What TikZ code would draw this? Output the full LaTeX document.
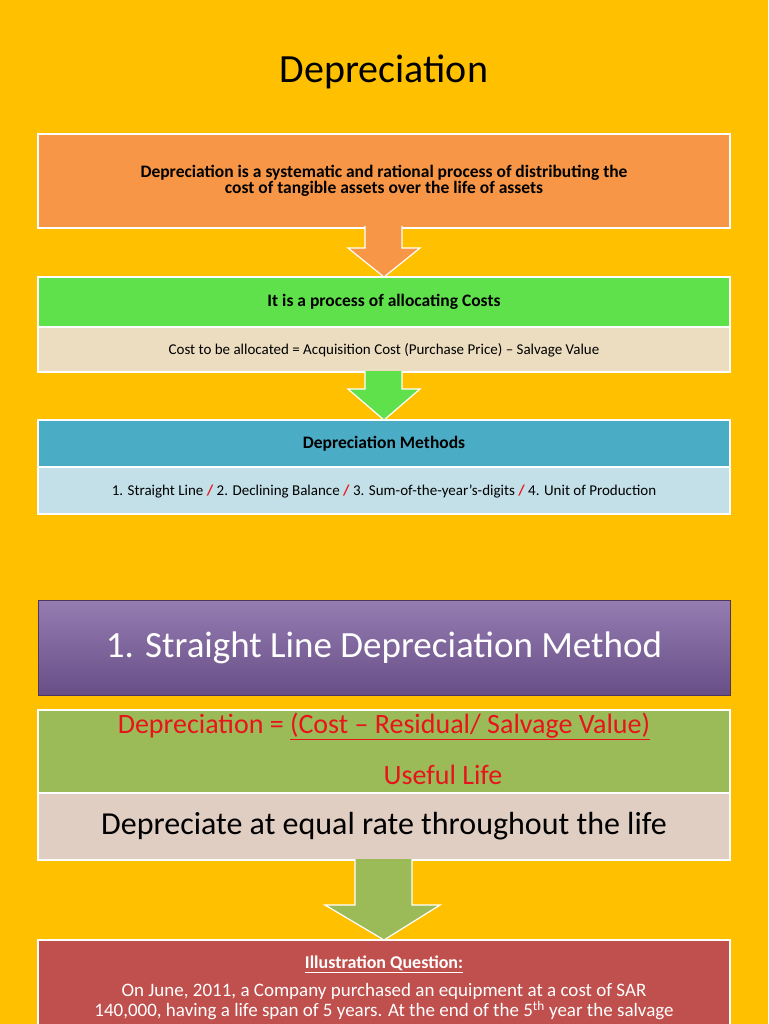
\documentclass[tikz,border=0pt]{standalone}
\usepackage{fontspec}
\setmainfont{Carlito}
\definecolor{bg}{HTML}{FFC000}
\definecolor{org}{HTML}{F79646}
\definecolor{grn}{HTML}{5FE14B}
\definecolor{bei}{HTML}{ECDDC0}
\definecolor{blu}{HTML}{4BACC6}
\definecolor{lblu}{HTML}{C3E0E8}
\definecolor{pur}{HTML}{7A5C9E}
\definecolor{olv}{HTML}{9BBB59}
\definecolor{bei2}{HTML}{E0CEC3}
\definecolor{redb}{HTML}{C0504D}
\definecolor{rtxt}{HTML}{E8141B}
\begin{document}
\begin{tikzpicture}[x=1pt,y=-1pt,
  box/.style={draw=white,line width=1.2pt},
  arr/.style={draw=white,line width=1.2pt,line join=miter}]
\fill[bg] (0,0) rectangle (768,1024);
\useasboundingbox (0,0) rectangle (768,1024);
\node (title) at (384,72) {\fontsize{40}{46}\selectfont Depreciation};
% orange
\fill[org,box] (38,134) rectangle (730,228);
\node[align=center] (def) at (384,181) {\fontsize{17.5}{24}\selectfont\bfseries Depreciation is a systematic and rational process of distributing the\\ \fontsize{17.5}{24}\selectfont\bfseries cost of tangible assets over the life of assets};
\filldraw[org,arr] (365,226) -- (365,248) -- (348,248) -- (384,277) -- (420,248) -- (402,248) -- (402,226);
% green
\fill[grn,box] (38,277) rectangle (730,327);
\fill[bei,box] (38,327) rectangle (730,372);
\node (alloc) at (384,302) {\fontsize{17.5}{20}\selectfont\bfseries It is a process of allocating Costs};
\node (formula1) at (384,350) {\fontsize{15}{18}\selectfont Cost to be allocated = Acquisition Cost (Purchase Price) -- Salvage Value};
\filldraw[grn,arr] (365,371) -- (365,389) -- (348,389) -- (384,420) -- (420,389) -- (402,389) -- (402,371);
% blue
\fill[blu,box] (38,420) rectangle (730,467);
\fill[lblu,box] (38,467) rectangle (730,514);
\node (meth) at (384,444) {\fontsize{17.5}{20}\selectfont\bfseries Depreciation Methods};
\node (list) at (384,491) {\fontsize{15}{18}\selectfont 1. Straight Line \textcolor{rtxt}{\bfseries /} 2. Declining Balance \textcolor{rtxt}{\bfseries /} 3. Sum-of-the-year’s-digits \textcolor{rtxt}{\bfseries /} 4. Unit of Production};
% purple
\shade[top color=pur!80!white,bottom color=pur!85!black,draw=pur!60!black,line width=1pt] (38,600) rectangle (730,695);
\node[text=white] (sl) at (384,648) {\fontsize{37}{42}\selectfont 1. Straight Line Depreciation Method};
% olive
\fill[olv,box] (38,710) rectangle (730,793);
\fill[bei2,box] (38,793) rectangle (730,860);
\node[text=rtxt,anchor=base] (eq) at (384,733) {\fontsize{28}{32}\selectfont Depreciation = \underline{(Cost -- Residual/ Salvage Value)}};
\node[text=rtxt,anchor=base] (ul) at (443,784) {\fontsize{28}{32}\selectfont Useful Life};
\node (eqr) at (384,826) {\fontsize{32}{36}\selectfont Depreciate at equal rate throughout the life};
\filldraw[olv,arr] (355,859) -- (355,905) -- (325,905) -- (384,940) -- (440,905) -- (412,905) -- (412,859);
% red
\fill[redb,box] (38,940) rectangle (730,1030);
\node[text=white] (iq) at (384,964) {\fontsize{18}{22}\selectfont\bfseries\underline{Illustration Question:}};
\node[text=white,align=center,anchor=north] (q) at (384,980) {\fontsize{19}{25}\selectfont On June, 2011, a Company purchased an equipment at a cost of SAR\\ \fontsize{19}{25}\selectfont 140,000, having a life span of 5 years. At the end of the 5\textsuperscript{th} year the salvage};
\end{tikzpicture}
\end{document}
